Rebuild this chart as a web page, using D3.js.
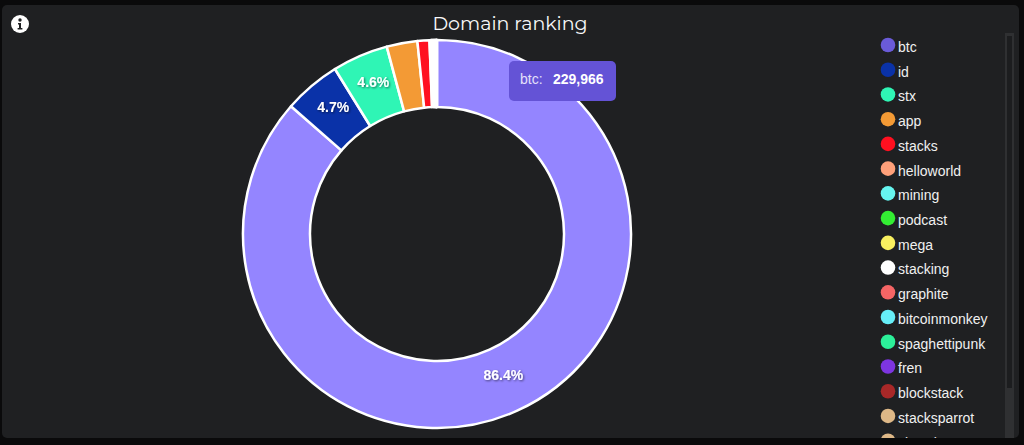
<!DOCTYPE html>
<html>
<head>
<meta charset="utf-8">
<script src="https://cdn.jsdelivr.net/npm/d3@7"></script>
<style>
html, body { margin: 0; padding: 0; background: #0a0a0b; }
svg { display: block; }
</style>
</head>
<body>
<svg id="chart" width="1024" height="445"></svg>
<script>
const title = 'Domain ranking';
const domains = ['btc', 'id', 'stx', 'app', 'stacks', 'helloworld', 'mining', 'podcast', 'mega', 'stacking',
  'graphite', 'bitcoinmonkey', 'spaghettipunk', 'fren', 'blockstack', 'stacksparrot', 'citycoins'];
const counts = [229966, 12630, 12360, 6800, 2650, 400, 240, 200, 160, 140, 120, 100, 80, 70, 60, 40, 34];
const colors = ['#6a5bd8', '#0a32a8', '#2ff5b5', '#f39a35', '#ff1020', '#ffa07a', '#66f5f0', '#33ee33', '#f8f060',
  '#ffffff', '#f56565', '#66eef8', '#2cf09a', '#7d35e0', '#a82828', '#deb887', '#deb887'];
const sliceColors = ['#9485ff', ...colors.slice(1)];

const svg = d3.select('#chart');
const total = d3.sum(counts);
const font = 'Liberation Sans, Arial, sans-serif';

// panel
svg.append('rect')
  .attr('x', 2).attr('y', 5)
  .attr('width', 1017).attr('height', 433)
  .attr('rx', 5)
  .style('fill', '#1f2022');

svg.append('text')
  .attr('x', 510).attr('y', 30)
  .attr('text-anchor', 'middle')
  .style('font', '400 19px Montserrat, "Open Sans", sans-serif')
  .style('fill', '#f8f8f8')
  .text(title);

// info icon
const info = svg.append('g').attr('transform', 'translate(20,24)');
info.append('circle').attr('r', 9).style('fill', '#fff');
info.append('circle').attr('cy', -4).attr('r', 1.7).style('fill', '#1f2022');
info.append('path').attr('d', d3.line()([[-2, -1], [1, -1], [1, 4], [2.4, 4], [2.4, 5.4], [-2.4, 5.4], [-2.4, 4], [-1, 4], [-1, 0.4], [-2, 0.4]]))
  .style('fill', '#1f2022');

// donut
const pie = d3.pie().sort(null).value((d) => d.count);
const arc = d3.arc().innerRadius(127).outerRadius(194);
const rows = domains.map((name, i) => ({ name, count: counts[i], color: sliceColors[i] }));
const donut = svg.append('g').attr('transform', 'translate(437,234)');

donut.selectAll('path')
  .data(pie(rows))
  .enter()
  .append('path')
  .attr('d', arc)
  .style('fill', (d) => d.data.color)
  .style('stroke', '#fff')
  .style('stroke-width', 2.5)
  .style('stroke-linejoin', 'round');

const shadow = svg.append('defs').append('filter').attr('id', 'shadow');
shadow.append('feDropShadow')
  .attr('dx', 1).attr('dy', 1)
  .attr('stdDeviation', 1)
  .attr('flood-color', '#000')
  .attr('flood-opacity', 0.55);

donut.selectAll('text')
  .data(pie(rows).filter((d) => d.data.count / total > 0.04))
  .enter()
  .append('text')
  .attr('transform', (d) => `translate(${arc.centroid(d)})`)
  .attr('text-anchor', 'middle')
  .attr('filter', 'url(#shadow)')
  .style('font', `700 14px ${font}`)
  .style('fill', '#fff')
  .text((d) => `${((d.data.count / total) * 100).toFixed(1)}%`);

// tooltip
const tip = svg.append('g').attr('transform', 'translate(509,61)');
tip.append('rect')
  .attr('width', 107).attr('height', 40)
  .attr('rx', 5)
  .style('fill', '#6453d6');
tip.append('text')
  .attr('x', 11).attr('y', 23)
  .style('font', `400 14px ${font}`)
  .style('fill', '#e4e0fa')
  .text(`${domains[0]}:`);
tip.append('text')
  .attr('x', 44).attr('y', 23)
  .style('font', `700 14px ${font}`)
  .style('fill', '#fff')
  .text(d3.format(',')(counts[0]));

// legend, clipped like the scrolling original
svg.append('clipPath').attr('id', 'legend-clip')
  .append('rect').attr('x', 870).attr('y', 30).attr('width', 130).attr('height', 408);

const legendY = d3.scalePoint().domain(domains).range([46, 46 + 24.73 * (domains.length - 1)]);
const legend = svg.append('g').attr('clip-path', 'url(#legend-clip)');
const item = legend.selectAll('g')
  .data(domains)
  .enter()
  .append('g')
  .attr('transform', (d) => `translate(0,${legendY(d)})`);

item.append('circle')
  .attr('cx', 888).attr('cy', -1)
  .attr('r', 7.3)
  .style('fill', (d, i) => colors[i]);
item.append('text')
  .attr('x', 898).attr('y', 1)
  .attr('dy', '0.35em')
  .style('font', `400 14px ${font}`)
  .style('fill', '#f0f0f0')
  .text((d) => d);

// scrollbar
svg.append('rect')
  .attr('x', 1005).attr('y', 33)
  .attr('width', 9).attr('height', 405)
  .style('fill', '#2f3032');
svg.append('rect')
  .attr('x', 1007).attr('y', 36)
  .attr('width', 5).attr('height', 352)
  .style('fill', '#1c1d1f');
</script>
</body>
</html>
